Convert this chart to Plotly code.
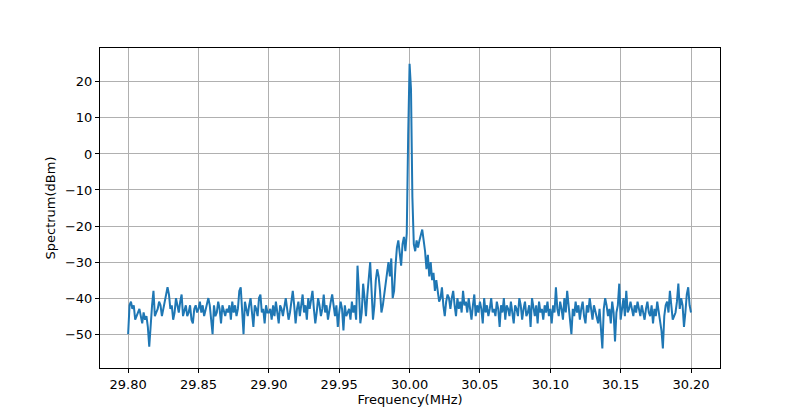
import numpy as np
import plotly.graph_objects as go

f_start, f_step, n = 29.800, 0.001, 401
spectrum_dbm = [
-50,-42,-41,-43,-42,-46,-45,-44,-43,-45,-47,-44,-46,-45,-48,-53.5,-47,-42,-38,-45,
-44,-43,-41,-42,-45,-43,-40,-38,-37,-39,-43,-42,-46,-44,-40,-42,-44,-41,-39,-45,
-43,-42,-45,-44,-42,-46,-47,-43,-42,-44,-43,-41,-44,-42,-45,-43,-41,-40,-42,-46,
-50,-42,-45,-44,-41,-43,-47,-42,-44,-45,-43,-44,-42,-46,-41,-44,-42,-45,-43,-38,
-37,-44,-50,-41,-43,-45,-42,-40,-44,-48,-42,-43,-45,-40,-39,-44,-43,-47,-42,-44,
-44,-43,-46,-42,-45,-41,-44,-47,-42,-43,-45,-42,-40,-43,-46,-44,-41,-38,-42,-47,
-43,-41,-45,-42,-39,-44,-42,-46,-40,-43,-41,-38,-43,-47,-44,-40,-42,-45,-43,-39,
-44,-42,-46,-43,-41,-39,-43,-45,-42,-48,-44,-41,-43,-49,-42,-45,-44,-43,-46,-41,
-44,-42,-46,-31,-38,-47,-44,-36,-40,-45,-39,-33,-30,-38,-46,-42,-35,-32,-34,-38,
-44,-42,-38,-36,-33,-30,-34,-29,-40,-38,-31,-26,-24,-27,-31,-25,-23,-27,-22,5,
25,18,-12,-25,-27,-24,-26,-24,-22,-21,-24,-27,-32,-28,-34,-30,-35,-33,-38,-35,
-38,-41,-40,-37,-42,-45,-41,-39,-40,-43,-40,-38,-42,-45,-40,-43,-41,-44,-38,-42,
-41,-44,-40,-43,-46,-42,-39,-45,-42,-44,-41,-43,-47,-40,-44,-42,-45,-43,-40,-44,
-43,-45,-41,-43,-48,-42,-44,-40,-46,-42,-43,-45,-41,-44,-47,-42,-43,-45,-40,-42,
-46,-43,-41,-45,-44,-42,-48,-40,-43,-45,-42,-47,-41,-44,-43,-46,-42,-44,-41,-45,
-43,-47,-42,-44,-37,-43,-45,-41,-43,-46,-40,-44,-38,-42,-46,-50,-43,-45,-41,-44,
-42,-46,-43,-41,-45,-47,-42,-44,-40,-43,-46,-42,-44,-45,-47,-43,-48,-54,-43,-40,
-42,-45,-43,-47,-41,-44,-52,-44,-42,-36,-46,-43,-40,-45,-38,-44,-43,-41,-43,-45,
-42,-44,-41,-43,-45,-42,-44,-46,-43,-41,-44,-45,-42,-47,-43,-45,-41,-44,-46,-49,
-54,-45,-42,-41,-44,-38,-42,-46,-45,-44,-41,-36,-43,-40,-42,-48,-44,-39,-37,-42,
-44]
freq_mhz = f_start + f_step * np.arange(len(spectrum_dbm))

fig = go.Figure(go.Scatter(x=freq_mhz, y=spectrum_dbm, mode="lines",
                           line=dict(color="#1f77b4", width=2)))
ax = dict(showline=True, linecolor="black", linewidth=1, mirror=True,
          ticks="outside", ticklen=4, tickcolor="black", showgrid=True,
          gridcolor="#b0b0b0", gridwidth=1, zeroline=False,
          tickfont=dict(size=13, color="black"))
fig.update_xaxes(range=[29.780, 30.2206], tickvals=[29.80,29.85,29.90,29.95,30.00,30.05,30.10,30.15,30.20],
                 tickformat=".2f", title=dict(text="Frequency(MHz)", font=dict(size=13), standoff=4), **ax)
fig.update_yaxes(range=[-59.4, 29.4], dtick=10,
                 title=dict(text="Spectrum(dBm)", font=dict(size=13), standoff=6), **ax)
fig.update_layout(width=800, height=409, margin=dict(l=92, r=88, t=40, b=49, autoexpand=False),
                  plot_bgcolor="white", paper_bgcolor="white", showlegend=False,
                  font=dict(family="DejaVu Sans", color="black"))
fig.write_html("out.html")
